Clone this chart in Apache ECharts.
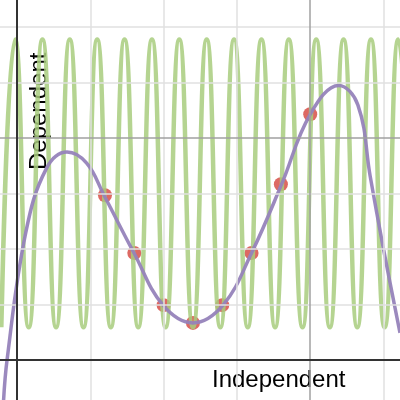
<!DOCTYPE html><html><head><meta charset="utf-8"><script src="https://cdn.jsdelivr.net/npm/echarts@6/dist/echarts.min.js"></script></head><body style="margin:0"><div id="c" style="width:400px;height:400px"></div><script>
const minorX=[1,2,3,5], majorX=[4], minorY=[1,2,3,5,6], majorY=[4];
const greenX=[-0.214,-0.027,0.160,0.347,0.533,0.720,0.907,1.094,1.280,1.467,1.654,1.841,2.027,2.214,2.401,2.588,2.774,2.961,3.148,3.335,3.521,3.708,3.895,4.082,4.268,4.455,4.642,4.829,5.015,5.202,5.389];
const greenY=[0.59,5.78,0.59,5.78,0.59,5.78,0.59,5.78,0.59,5.78,0.59,5.78,0.59,5.78,0.59,5.78,0.59,5.78,0.59,5.78,0.59,5.78,0.59,5.78,0.59,5.78,0.59,5.78,0.59,5.78,0.59];
const purpleX=[-0.19,-0.136,0.12,0.40,0.682,0.95,1.187,1.596,1.992,2.40,2.81,3.20,3.61,4.0,4.39,4.65,4.82,5.0,5.225];
const purpleY=[-0.9,0,2.3,3.45,3.75,3.55,2.97,1.93,0.99,0.67,0.99,1.93,3.17,4.43,4.95,4.6,3.3,2.0,0.49];
const dotX=[1.2,1.6,2.0,2.4,2.8,3.2,3.6,4.0];
const dotY=[2.97,1.93,0.99,0.67,0.99,1.93,3.17,4.43];
const zip=(a,b)=>a.map((v,i)=>[v,b[i]]);
const ml=(arr,axis,color,w)=>({silent:true,symbol:'none',label:{show:false},lineStyle:{color,width:w,type:'solid'},data:arr.map(v=>({[axis]:v}))});
const ch=echarts.init(document.getElementById('c'));
ch.setOption({animation:false,
grid:{left:0,right:0,top:0,bottom:0},
xAxis:{type:'value',min:-0.232,max:5.225,show:false,splitLine:{show:false}},
yAxis:{type:'value',min:-0.72,max:6.49,show:false,splitLine:{show:false}},
series:[
{type:'line',data:[],markLine:ml(minorX,'xAxis','#e0e0e0',1.5)},
{type:'line',data:[],markLine:ml(minorY,'yAxis','#e0e0e0',1.5)},
{type:'line',data:[],markLine:ml(majorX,'xAxis','#a0a0a0',1.5)},
{type:'line',data:[],markLine:ml(majorY,'yAxis','#a0a0a0',1.5)},
{type:'line',data:[],markLine:ml([0],'xAxis','#333',2)},
{type:'line',data:[],markLine:ml([0],'yAxis','#333',2)},
{type:'line',data:zip(greenX,greenY),smooth:0.55,showSymbol:false,clip:true,lineStyle:{color:'#a8cc7e',width:4.5,opacity:0.85}},
{type:'line',data:zip(purpleX,purpleY),smooth:0.4,showSymbol:false,clip:true,lineStyle:{color:'#9683bb',width:3.5,opacity:0.95}},
{type:'scatter',data:zip(dotX,dotY),symbolSize:14,itemStyle:{color:'#d4443c',opacity:0.8}}
]});
ch.setOption({graphic:[
{type:'text',left:212,top:368,style:{text:'Independent',font:'24px "Liberation Sans", Arial',fill:'#000'}},
{type:'text',x:27,y:170,rotation:Math.PI/2,style:{text:'Dependent',font:'24px "Liberation Sans", Arial',fill:'#000'}}
]});
</script></body></html>
